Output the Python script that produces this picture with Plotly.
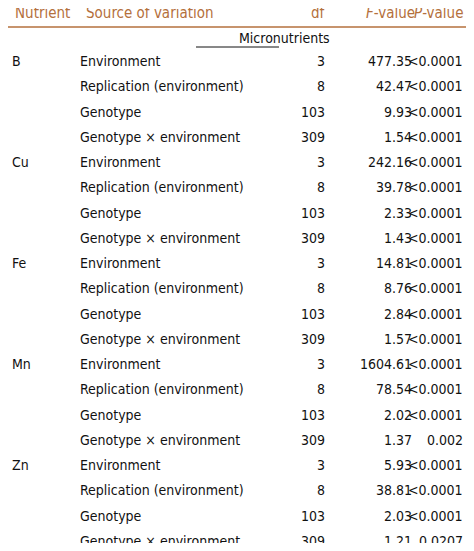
import plotly.graph_objects as go

headers = ["Nutrient", "Source of variation", "df", "<i>F</i>-value", "<i>P</i>-value"]
section = "Micronutrients"
nutrients = ["B", "Cu", "Fe", "Mn", "Zn"]
sources = ["Environment", "Replication (environment)", "Genotype", "Genotype × environment"]
df_vals = [3, 8, 103, 309]
f_values = [[477.35, 42.47, 9.93, 1.54],
            [242.16, 39.78, 2.33, 1.43],
            [14.81, 8.76, 2.84, 1.57],
            [1604.61, 78.54, 2.02, 1.37],
            [5.93, 38.81, 2.03, 1.21]]
p_values = [["<0.0001"] * 4,
            ["<0.0001"] * 4,
            ["<0.0001"] * 4,
            ["<0.0001", "<0.0001", "<0.0001", "0.002"],
            ["<0.0001", "<0.0001", "<0.0001", "0.0207"]]

W, H = 474, 551
M = 8  # page body margin
FONT = "DejaVu Sans Condensed, Liberation Sans Narrow, Arial Narrow, sans-serif"
HC = "#b4703c"
fig = go.Figure()
ann = []
def t(x, y, s, anchor="left", color="#111", size=14):
    ann.append(dict(x=x, y=y, text=s, xanchor=anchor, yanchor="middle", showarrow=False,
                    font=dict(family=FONT, size=size, color=color), xref="x", yref="y"))

hx = [(42, "center"), (150, "center"), (318, "center"), (390, "center"), (465, "right")]
for (x, a), h in zip(hx, headers):
    t(x, 13, h, a, HC, 15)
t(237, 38, section)

y0, dy = 61, 25.26
r = 0
for i, n in enumerate(nutrients):
    for j, s in enumerate(sources):
        y = y0 + r * dy
        if j == 0:
            t(10, y, n)
        t(78, y, s)
        t(327, y, str(df_vals[j]), "right")
        t(414, y, f"{f_values[i][j]:.2f}", "right")
        t(465, y, p_values[i][j], "right")
        r += 1

shapes = [dict(type="line", x0=M, x1=W - M, y0=27, y1=27, line=dict(color=HC, width=1.5), xref="x", yref="y"),
          dict(type="line", x0=196, x1=279, y0=47, y1=47, line=dict(color="#111", width=1), xref="x", yref="y")]
fig.update_layout(width=W - 2 * M, height=H - 2 * M, margin=dict(l=0, r=0, t=0, b=0),
                  plot_bgcolor="white", paper_bgcolor="white",
                  xaxis=dict(range=[M, W - M], visible=False, fixedrange=True),
                  yaxis=dict(range=[H - M, M], visible=False, fixedrange=True),
                  annotations=ann, shapes=shapes, showlegend=False)
fig.write_html("out.html")
